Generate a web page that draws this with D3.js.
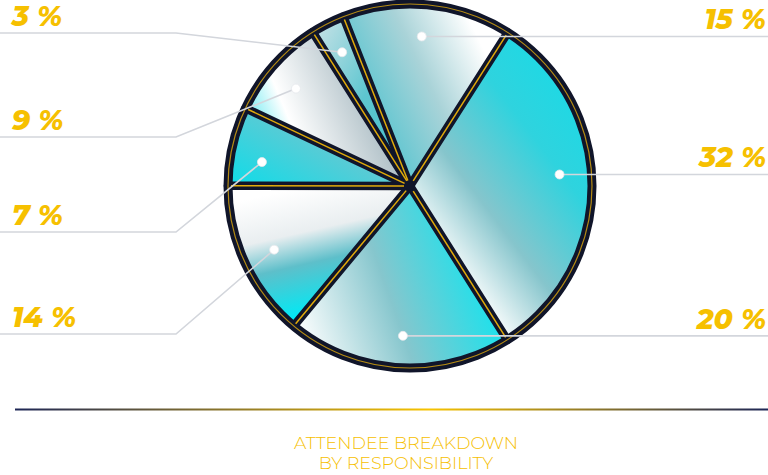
<!DOCTYPE html>
<html>
<head>
<meta charset="utf-8">
<script src="https://cdn.jsdelivr.net/npm/d3@7"></script>
<style>
  html, body { margin: 0; padding: 0; background: #fff; }
  svg { display: block; }
</style>
</head>
<body>
<svg id="chart"></svg>
<script>
// slice shares, clockwise from the 15 % slice
const shares = [15, 32, 20, 14, 7, 9, 3];
const sides = ["right", "right", "right", "left", "left", "left", "left"];
const titleLines = ["ATTENDEE BREAKDOWN", "BY RESPONSIBILITY"];

// gradient look of each slice (direction + stops)
const looks = [
    { x1: 0.05, y1: 0.55, x2: 0.8, y2: 0.15, stops: [[0, "#4fc3cf"], [0.55, "#a9d3d8"], [1, "#ffffff"]] },
    { x1: 0.8, y1: 0.0, x2: 0.1, y2: 0.9, stops: [[0, "#18dbe7"], [0.3, "#2fd3de"], [0.6, "#86c5cc"], [0.85, "#ffffff"], [1, "#d5d8dc"]] },
    { x1: 0.0, y1: 0.75, x2: 1.0, y2: 0.45, stops: [[0, "#ffffff"], [0.45, "#86c6cd"], [1, "#00e9f4"]] },
    { x1: 0.1, y1: 0.1, x2: 0.35, y2: 0.95, stops: [[0, "#ffffff"], [0.35, "#e9eef0"], [0.6, "#5ebfca"], [1, "#00eaf5"]] },
    { x1: 0.0, y1: 0.9, x2: 1.0, y2: 0.1, stops: [[0, "#14dbe7"], [1, "#9bbcc4"]] },
    { x1: 0.0, y1: 0.95, x2: 0.9, y2: 0.6, stops: [[0, "#10dde9"], [0.4, "#ffffff"], [1, "#a3b6be"]] },
    { x1: 0.0, y1: 0.0, x2: 1.0, y2: 1.0, stops: [[0, "#cfe4e8"], [0.5, "#5ec6d0"], [1, "#3fc0cc"]] }
];

const width = 768, height = 475;
const cx = 410, cy = 186, radius = 182;
const dotRadius = 150;
const dotShift = [-1, -4.5, -1, 0, -3.5, -1, 0];   // degrees, dot vs. slice middle
const leftRows = [334, 232, 137, 33];   // leader y for left labels (14, 7, 9, 3)
const elbowX = 176;

const svg = d3.select("#chart")
    .attr("width", width)
    .attr("height", height);

const defs = svg.append("defs");

looks.forEach((l, i) => {
    const g = defs.append("linearGradient")
        .attr("id", "slice" + i)
        .attr("x1", l.x1).attr("y1", l.y1)
        .attr("x2", l.x2).attr("y2", l.y2);
    l.stops.forEach(s => g.append("stop").attr("offset", s[0]).attr("stop-color", s[1]));
});

const rule = defs.append("linearGradient").attr("id", "rule");
rule.append("stop").attr("offset", 0).attr("stop-color", "#1d2656");
rule.append("stop").attr("offset", 0.55).attr("stop-color", "#f7c300");
rule.append("stop").attr("offset", 1).attr("stop-color", "#1d2656");

const rad = Math.PI / 180;
const pie = d3.pie().sort(null)
    .startAngle(-21.5 * rad)
    .endAngle(-21.5 * rad + 2 * Math.PI);
const arcs = pie(shares);

const arc = d3.arc().innerRadius(0).outerRadius(radius);

const g = svg.append("g").attr("transform", `translate(${cx},${cy})`);

g.selectAll(".slice")
    .data(arcs)
    .enter().append("path")
    .attr("class", "slice")
    .attr("d", arc)
    .attr("fill", (d, i) => `url(#slice${i})`);

// separators
const edges = arcs.map(d => d.startAngle);

g.selectAll(".sep")
    .data(edges)
    .enter().append("line")
    .attr("class", "sep")
    .attr("x1", 0).attr("y1", 0)
    .attr("x2", a => d3.pointRadial(a, radius)[0])
    .attr("y2", a => d3.pointRadial(a, radius)[1])
    .attr("stroke", "#10152a")
    .attr("stroke-width", 8.5)
    .attr("stroke-linecap", "round");

g.append("circle")
    .attr("r", radius)
    .attr("fill", "none")
    .attr("stroke", "#10152a")
    .attr("stroke-width", 9);

g.append("circle")
    .attr("r", radius)
    .attr("fill", "none")
    .attr("stroke", "#b48b14")
    .attr("stroke-width", 1.2);

g.selectAll(".sepGold")
    .data(edges)
    .enter().append("line")
    .attr("class", "sepGold")
    .attr("x1", a => d3.pointRadial(a, 6)[0])
    .attr("y1", a => d3.pointRadial(a, 6)[1])
    .attr("x2", a => d3.pointRadial(a, radius - 3)[0])
    .attr("y2", a => d3.pointRadial(a, radius - 3)[1])
    .attr("stroke", "#e1ab0a")
    .attr("stroke-width", 1.5);

// leaders and labels
const leaders = svg.append("g");
const fmt = v => `${v} %`;
let leftIdx = 0;

arcs.forEach((d, i) => {
    const mid = (d.startAngle + d.endAngle) / 2 + dotShift[i] * rad;
    const [px, py] = d3.pointRadial(mid, dotRadius);
    const x = cx + px, y = cy + py;
    if (sides[i] === "right") {
        leaders.append("line")
            .attr("x1", x).attr("y1", y)
            .attr("x2", width).attr("y2", y)
            .attr("stroke", "#d3d6dc")
            .attr("stroke-width", 1.6);
        leaders.append("text")
            .attr("x", width - 2)
            .attr("y", y - 7)
            .attr("text-anchor", "end")
            .attr("class", "pct")
            .text(fmt(d.data));
    } else {
        const ry = leftRows[leftIdx++];
        leaders.append("polyline")
            .attr("points", `0,${ry} ${elbowX},${ry} ${x},${y}`)
            .attr("fill", "none")
            .attr("stroke", "#d3d6dc")
            .attr("stroke-width", 1.6);
        leaders.append("text")
            .attr("x", 12)
            .attr("y", ry - 7)
            .attr("class", "pct")
            .text(fmt(d.data));
    }
    leaders.append("circle")
        .attr("cx", x).attr("cy", y)
        .attr("r", 4.5)
        .attr("fill", "#ffffff")
        .attr("stroke", "#e6e8ec")
        .attr("stroke-width", 0.8);
});

leaders.selectAll(".pct")
    .style("font-family", "Montserrat, 'Open Sans', sans-serif")
    .style("font-style", "italic")
    .style("font-weight", 800)
    .style("font-size", "28px")
    .attr("fill", "#f6c000");

// bottom rule and title
svg.append("rect")
    .attr("x", 15).attr("y", 408.5)
    .attr("width", width - 15).attr("height", 2)
    .attr("fill", "url(#rule)");

svg.append("g").selectAll("text")
    .data(titleLines)
    .enter().append("text")
    .attr("x", 406)
    .attr("y", (d, i) => 449 + i * 20)
    .attr("text-anchor", "middle")
    .style("font-family", "Montserrat, 'Open Sans', sans-serif")
    .style("font-weight", 300)
    .style("font-size", "17.5px")
    .attr("fill", "#f6c000")
    .text(d => d);
</script>
</body>
</html>
